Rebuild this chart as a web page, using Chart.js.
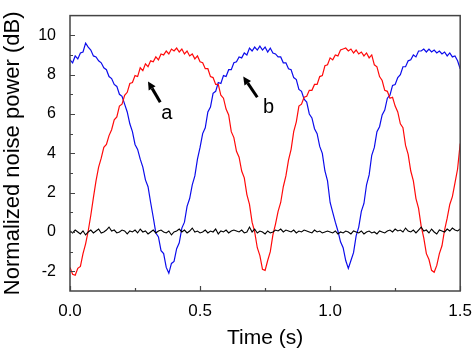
<!DOCTYPE html>
<html>
<head>
<meta charset="utf-8">
<script src="https://cdn.jsdelivr.net/npm/chart.js@4"></script>
<style>
  body { margin: 0; background: #fff; }
  #wrap { width: 474px; height: 351px; }
</style>
</head>
<body>
<div id="wrap"><canvas id="grafico"></canvas></div>
<script>
// time axis sampled every 10 ms, 0 .. 1.5 s
const passoTempo = 0.01;

// curve a (red)
const curvaA = [
  -1.8,-2.15,-2.2,-1.85,-1.75,-1.1,-0.6,0.05,0.85,1.75,
  2.6,3.3,3.75,4.3,4.45,4.9,5.2,5.7,5.85,6.4,
  6.5,6.95,7.1,7.55,7.6,7.95,7.9,8.35,8.2,8.55,
  8.4,8.7,8.65,8.9,8.75,9.05,9.0,9.2,9.05,9.3,
  9.2,9.35,9.15,9.3,9.05,9.2,8.95,9.05,8.8,8.95,
  8.65,8.6,8.3,8.3,7.9,7.85,7.5,7.5,6.95,6.8,
  6.25,5.95,5.1,4.8,4.1,3.8,3.1,2.75,1.9,1.4,
  0.5,0.0,-0.8,-1.2,-1.9,-1.95,-1.45,-1.0,-0.15,0.4,
  1.05,1.5,2.3,2.85,3.65,4.2,5.1,5.6,6.4,6.5,
  6.85,6.9,7.2,7.2,7.5,7.5,7.9,7.95,8.45,8.5,
  8.85,8.75,9.0,8.95,9.25,9.3,9.35,9.2,9.3,9.1,
  9.25,9.05,9.15,8.95,9.1,8.85,9.0,8.5,8.4,7.9,
  7.7,7.2,7.15,6.8,6.85,6.4,6.1,5.5,5.3,4.4,
  3.95,3.1,2.6,1.7,1.2,0.3,-0.3,-1.1,-1.4,-1.95,
  -2.05,-1.7,-1.1,-0.7,0.1,0.7,1.4,1.8,2.5,3.2,
  4.5
];

// curve b (blue)
const curvaB = [
  8.75,8.6,8.95,8.8,9.1,9.15,9.6,9.4,9.25,8.95,
  8.9,8.7,8.6,8.35,8.25,7.9,7.8,7.5,7.4,7.0,
  6.9,6.5,6.1,5.5,5.1,4.45,4.2,3.7,3.3,2.65,
  2.3,1.5,0.75,-0.05,-0.25,-0.95,-1.1,-1.8,-2.1,-1.6,
  -1.5,-0.85,-0.55,0.2,0.5,1.3,1.7,2.4,2.85,3.7,
  4.3,5.0,5.3,6.1,6.35,7.05,7.15,7.6,7.55,7.95,
  7.9,8.25,8.25,8.6,8.65,8.9,8.85,9.1,9.0,9.35,
  9.2,9.4,9.25,9.45,9.25,9.4,9.15,9.35,9.1,9.05,
  8.9,8.9,8.6,8.6,8.3,8.25,7.85,7.75,7.25,7.15,
  6.75,6.6,6.0,5.8,5.25,5.0,4.35,4.0,3.1,2.6,
  1.5,1.0,0.5,0.05,-0.5,-0.8,-1.45,-1.85,-1.45,-1.05,
  -0.2,0.25,1.05,1.45,2.4,2.9,3.9,4.3,5.1,5.35,
  5.95,6.2,6.8,6.95,7.45,7.5,7.85,8.0,8.4,8.4,
  8.7,8.75,9.0,8.9,9.2,9.2,9.3,9.15,9.3,9.15,
  9.25,9.1,9.2,9.05,9.15,8.95,9.1,8.9,8.95,8.7,
  8.3
];

// shot noise reference (black)
const ruido = [
  0.05,-0.05,0.1,0.0,-0.1,0.05,-0.15,0.0,0.1,-0.05,
  0.05,0.15,-0.05,0.0,0.1,0.25,0.05,0.1,-0.05,0.0,
  0.1,0.05,-0.1,0.05,0.0,0.1,-0.05,0.15,0.0,0.05,
  -0.1,0.0,0.1,-0.05,0.05,0.1,0.0,-0.05,0.05,-0.15,
  0.0,0.05,0.15,0.0,0.1,-0.05,0.05,0.2,0.0,0.05,
  -0.05,0.0,0.1,-0.05,0.05,0.0,0.15,-0.1,0.05,0.0,
  0.1,-0.05,0.05,0.1,0.05,0.0,0.1,-0.05,0.0,0.25,
  0.0,0.15,-0.05,0.05,0.0,-0.1,0.05,-0.05,0.0,0.1,
  0.05,0.15,0.0,0.1,0.05,0.0,0.1,-0.05,0.05,0.0,
  0.1,0.05,0.0,-0.05,0.1,0.0,0.05,-0.05,0.0,0.05,
  0.0,-0.05,0.05,-0.1,0.0,-0.05,0.05,0.0,-0.1,0.05,
  0.0,-0.05,0.05,-0.1,0.0,0.05,-0.05,0.0,-0.1,0.05,
  0.0,-0.05,0.05,0.1,0.0,0.15,0.05,0.1,0.0,0.2,
  0.05,0.0,0.1,-0.05,0.1,0.25,0.05,0.1,-0.05,0.15,
  0.0,-0.1,0.1,0.05,0.0,0.15,0.05,0.2,0.1,0.05,
  0.15
];

const ticksX = [0, 0.5, 1.0, 1.5];
const ticksXMenores = [0.25, 0.75, 1.25];
const ticksY = [-2, 0, 2, 4, 6, 8, 10];
const ticksYMenores = [-1, 1, 3, 5, 7, 9];

// arrows: [tail x, tail y, head x, head y, label x, label y, text]
const setas = [
  [0.347, 6.6, 0.300, 7.65, 0.372, 6.0, 'a'],
  [0.720, 6.85, 0.666, 7.9, 0.763, 6.35, 'b']
];

function pontos(valores) {
  return valores.map((v, i) => ({ x: +(i * passoTempo).toFixed(2), y: v }));
}

const molduraPlugin = {
  id: 'moldura',
  afterDatasetsDraw(chart) {
    const { ctx, chartArea: a, scales } = chart;
    ctx.save();
    ctx.strokeStyle = '#444';
    ctx.lineWidth = 1.5;
    ctx.strokeRect(a.left, a.top, a.right - a.left, a.bottom - a.top);
    ctx.lineWidth = 1.2;
    ctx.beginPath();
    ticksX.concat(ticksXMenores).forEach(v => {
      const px = Math.round(scales.x.getPixelForValue(v)) + 0.5;
      const len = ticksX.includes(v) ? 5 : 3;
      ctx.moveTo(px, a.bottom); ctx.lineTo(px, a.bottom - len);
    });
    ticksY.concat(ticksYMenores).forEach(v => {
      const py = Math.round(scales.y.getPixelForValue(v)) + 0.5;
      const len = ticksY.includes(v) ? 5 : 3;
      ctx.moveTo(a.left, py); ctx.lineTo(a.left + len, py);
    });
    ctx.stroke();

    // arrows and labels
    setas.forEach(s => {
      const x0 = scales.x.getPixelForValue(s[0]), y0 = scales.y.getPixelForValue(s[1]);
      const x1 = scales.x.getPixelForValue(s[2]), y1 = scales.y.getPixelForValue(s[3]);
      const ang = Math.atan2(y1 - y0, x1 - x0);
      const hl = 8, hw = 4;
      const bx = x1 - hl * Math.cos(ang), by = y1 - hl * Math.sin(ang);
      ctx.strokeStyle = '#000';
      ctx.fillStyle = '#000';
      ctx.lineWidth = 3;
      ctx.beginPath();
      ctx.moveTo(x0, y0); ctx.lineTo(bx, by);
      ctx.stroke();
      ctx.beginPath();
      ctx.moveTo(x1, y1);
      ctx.lineTo(bx + hw * Math.sin(ang), by - hw * Math.cos(ang));
      ctx.lineTo(bx - hw * Math.sin(ang), by + hw * Math.cos(ang));
      ctx.closePath();
      ctx.fill();
      ctx.font = '20px "Liberation Sans", Arial, sans-serif';
      ctx.textAlign = 'center';
      ctx.textBaseline = 'middle';
      ctx.fillText(s[6], scales.x.getPixelForValue(s[4]), scales.y.getPixelForValue(s[5]));
    });
    ctx.restore();
  }
};

const fonte = { family: '"Liberation Sans", Arial, sans-serif', size: 16 };

const ctx = document.getElementById('grafico').getContext('2d');
new Chart(ctx, {
  type: 'line',
  data: {
    datasets: [
      { data: pontos(ruido), borderColor: '#000000', borderWidth: 1.1 },
      { data: pontos(curvaA), borderColor: '#ff0a0a', borderWidth: 1.2 },
      { data: pontos(curvaB), borderColor: '#0c0ceb', borderWidth: 1.2 }
    ]
  },
  options: {
    responsive: true,
    maintainAspectRatio: false,
    animation: false,
    layout: { padding: { top: 4, right: 12, left: 0, bottom: 0 } },
    elements: { point: { radius: 0 }, line: { tension: 0 } },
    plugins: { legend: { display: false }, tooltip: { enabled: false } },
    scales: {
      x: {
        type: 'linear', min: 0, max: 1.5,
        afterBuildTicks: s => { s.ticks = ticksX.map(v => ({ value: v })); },
        afterFit: s => { s.height = 60; },
        grid: { display: false },
        border: { display: false },
        ticks: { color: '#000', font: { family: fonte.family, size: 17 }, padding: 2, maxRotation: 0,
                  callback: v => v.toFixed(1) },
        title: { display: true, text: 'Time (s)', color: '#000',
                 font: { family: fonte.family, size: 21 }, padding: { top: 0, bottom: 0 } }
      },
      y: {
        min: -3, max: 11,
        afterBuildTicks: s => { s.ticks = ticksY.map(v => ({ value: v })); },
        afterFit: s => { s.width = 70; },
        grid: { display: false },
        border: { display: false },
        ticks: { color: '#000', font: fonte, padding: 6 },
        title: { display: true, text: 'Normalized noise power (dB)', color: '#000',
                 font: { family: fonte.family, size: 22 }, padding: { top: 0, bottom: 0 } }
      }
    }
  },
  plugins: [molduraPlugin]
});
</script>
</body>
</html>
